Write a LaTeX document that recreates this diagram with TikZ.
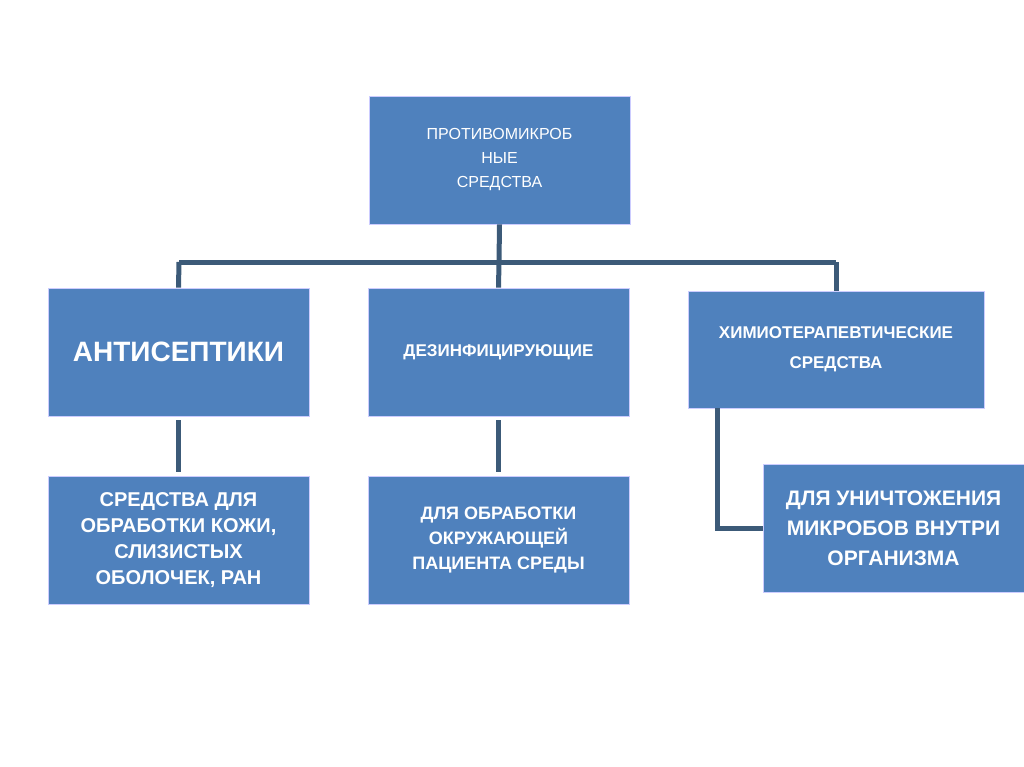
\documentclass[tikz,border=0pt]{standalone}
\usepackage{fontspec}
\setmainfont{Liberation Sans}
\begin{document}
\begin{tikzpicture}[x=1pt,y=-1pt,
 box/.style={draw=white!80!blue,line width=0.8pt,fill={rgb,255:red,79;green,129;blue,189},text=white,font=\bfseries,align=center,inner sep=0pt},
 conn/.style={draw={rgb,255:red,60;green,90;blue,120},line width=2.5pt,double={rgb,255:red,60;green,90;blue,120},double distance=0pt}]
\useasboundingbox (0,0) rectangle (1024,767);
\node[box,minimum width=261,minimum height=128,font=\fontsize{16}{24}\selectfont] (top) at (499.5,160) {ПРОТИВОМИКРОБ\\НЫЕ\\СРЕДСТВА};
\node[box,minimum width=261,minimum height=128,font=\bfseries\fontsize{28}{32}\selectfont] (a) at (178.5,352) {АНТИСЕПТИКИ};
\node[box,minimum width=261,minimum height=128,font=\bfseries\fontsize{17}{22}\selectfont] (d) at (498.5,352) {ДЕЗИНФИЦИРУЮЩИЕ};
\node[box,minimum width=296,minimum height=117,font=\bfseries\fontsize{17}{30}\selectfont] (h) at (836,349.5) {ХИМИОТЕРАПЕВТИЧЕСКИЕ\\СРЕДСТВА};
\node[box,minimum width=261,minimum height=128,font=\bfseries\fontsize{20}{26}\selectfont] (a2) at (178.5,540) {СРЕДСТВА ДЛЯ\\ОБРАБОТКИ КОЖИ,\\СЛИЗИСТЫХ\\ОБОЛОЧЕК, РАН};
\node[box,minimum width=261,minimum height=128,font=\bfseries\fontsize{18}{25}\selectfont] (d2) at (498.5,540) {ДЛЯ ОБРАБОТКИ\\ОКРУЖАЮЩЕЙ\\ПАЦИЕНТА СРЕДЫ};
\node[box,minimum width=261,minimum height=128,font=\bfseries\fontsize{21}{30}\selectfont] (h2) at (893.5,528) {ДЛЯ УНИЧТОЖЕНИЯ\\МИКРОБОВ ВНУТРИ\\ОРГАНИЗМА};
\coordinate (j) at (499,262);
\draw[conn] (top.south) -- (j);
\draw[conn] (179,262) -- (836,262);
\draw[conn] (179,262) -- (a.north);
\draw[conn] (j) -- (d.north);
\draw[conn] (836,262) -- (h.north);
\draw[conn] (a.south) ++(0,4) -- ++(0,52);
\draw[conn] (d.south) ++(0,4) -- ++(0,52);
\draw[conn] (717,408) |- (h2.west);
\end{tikzpicture}
\end{document}
